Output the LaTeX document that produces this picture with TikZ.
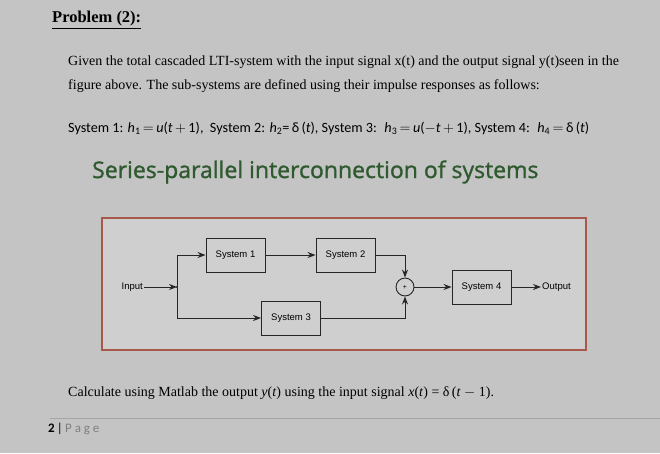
\documentclass[tikz,border=0pt]{standalone}
\usepackage{fontspec}
\setmainfont{Liberation Serif}
\newfontfamily\carl{Carlito}
\newfontfamily\arl{Liberation Sans}
\newfontfamily\opn[FakeBold=1.2]{Open Sans}
\usetikzlibrary{arrows.meta}
\definecolor{bg}{HTML}{C4C4C4}
\definecolor{inner}{HTML}{CFCFCF}
\definecolor{frame}{HTML}{A8584A}
\definecolor{ttl}{HTML}{2F5A2F}
\newcommand{\ci}[1]{\textit{#1}}
\begin{document}
\begin{tikzpicture}[x=1pt,y=-1pt,
  sys/.style={draw=black!85,line width=0.9pt,fill=inner,minimum width=59pt,minimum height=34pt,font=\arl\fontsize{9.5}{10}\selectfont,inner sep=0pt},
  txt/.style={anchor=west,inner sep=0pt},
  arr/.style={-{Stealth[length=8pt,width=6pt]},line width=1pt,black!85},
  ln/.style={line width=0.9pt,black!85}]
\fill[bg] (0,0) rectangle (660,453);
\useasboundingbox (0,0) rectangle (660,453);
\node[txt] (prob) at (52,20) {\fontsize{16.5}{18}\selectfont\bfseries\underline{Problem (2):}};
\node[txt] (p1) at (68,62) {\fontsize{14}{15}\selectfont Given the total cascaded LTI-system with the input signal x(t) and the output signal y(t)seen in the};
\node[txt] (p2) at (68,86) {\fontsize{14}{15}\selectfont figure above. The sub-systems are defined using their impulse responses as follows:};
\node[txt] (p3) at (68,128) {\carl\fontsize{14.2}{15}\selectfont System 1: \ci{h}\textsubscript{1}$\,=\,$\ci{u}(\ci{t}$\,+\,$1),\ \ System 2: \ci{h}\textsubscript{2}=\,δ\,(\ci{t}), System 3: \ \ci{h}\textsubscript{3}$\,=\,$\ci{u}($-$\ci{t}$\,+\,$1), System 4: \ \ci{h}\textsubscript{4}$\,=$\,δ\,(\ci{t})};
\node[txt] (ttl) at (92,172) {\opn\fontsize{23}{25}\selectfont\color{ttl} Series-parallel interconnection of systems};
\draw[frame,line width=1.5pt,fill=inner] (102,218) rectangle (586,350);
\node[sys] (s1) at (235.5,255) {System 1};
\node[sys] (s2) at (345.5,255) {System 2};
\node[sys] (s3) at (291,318) {System 3};
\node[sys] (s4) at (481.5,287) {System 4};
\node[draw=black!85,line width=0.9pt,circle,minimum size=18pt,inner sep=0pt,font=\arl\fontsize{7}{7}\selectfont] (sum) at (405,287) {+};
\node[font=\arl\fontsize{9.5}{10}\selectfont,anchor=east,inner sep=1pt] (in) at (144,287) {Input};
\node[font=\arl\fontsize{9.5}{10}\selectfont,anchor=west,inner sep=1pt] (out) at (541,287) {Output};
\coordinate (j) at (177,287);
\draw[arr] (in) -- (j);
\fill[black!85] (j) circle (1.2pt);
\draw[arr] (j) |- (s1.west);
\draw[arr] (j) |- (s3.west);
\draw[arr] (s1) -- (s2);
\draw[arr] (s2.east) -| (sum.north);
\draw[arr] (s3.east) -| (sum.south);
\draw[arr] (sum) -- (s4);
\draw[arr] (s4) -- (out);
\node[txt] (calc) at (68,393) {\fontsize{14}{15}\selectfont Calculate using Matlab the output \textit{y}(\textit{t}) using the input signal \textit{x}(\textit{t}) = δ\,(\textit{t} $-$ 1).};
\draw[black!35,line width=0.6pt] (50,418) -- (660,418);
\node[txt] (pg) at (48,429) {\carl\fontsize{13}{14}\selectfont\textbf{2}\,|\,{\color{black!50}P a g e}};
\end{tikzpicture}
\end{document}
